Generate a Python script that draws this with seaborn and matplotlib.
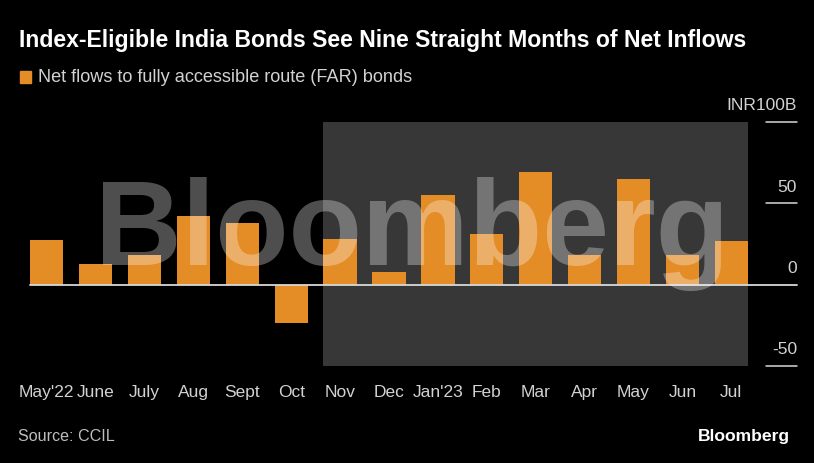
import matplotlib
matplotlib.use("Agg")
import matplotlib.pyplot as plt
import matplotlib.patches as mpatches
import seaborn as sns
import pandas as pd

# data (INR billion)
months = ["May'22", "June", "July", "Aug", "Sept", "Oct", "Nov", "Dec",
          "Jan'23", "Feb", "Mar", "Apr", "May", "Jun", "Jul"]
net_flows = [27.5, 13, 18.5, 42.5, 38, -23.5, 28, 7.5, 55, 31, 69, 18, 65, 18, 27]
yticks = [-50, 0, 50, 100]
ytick_labels = ["-50", "0", "50", "INR100B"]
shade_from = "Nov"

df = pd.DataFrame({"month": months, "flow": net_flows})

sns.set_style("dark")
plt.rcParams["font.family"] = ["Liberation Sans", "DejaVu Sans"]

bg = "black"
orange = "#e48c26"
grey_txt = "#d2d2d2"

fig = plt.figure(figsize=(8.14, 4.64), dpi=100, facecolor=bg)
ax = fig.add_axes([30 / 814, 1 - 367 / 464, 718 / 814, 244 / 464])
ax.set_facecolor(bg)

bw = 0.68
sns.barplot(data=df, x="month", y="flow", color=orange, width=bw,
            saturation=1, ax=ax, zorder=2, linewidth=0, edgecolor=orange)
ax.set_xlim(-bw / 2, len(months) - 1 + bw / 2)
ax.set_ylim(-50, 100)

# shaded period
i0 = months.index(shade_from)
ax.axvspan(i0 - bw / 2, len(months) - 1 + bw / 2, color="#373737", zorder=0, lw=0)

for s in ax.spines.values():
    s.set_visible(False)
ax.grid(False)
ax.set_xlabel("")
ax.set_ylabel("")
ax.set_yticks([])
ax.tick_params(axis="x", colors=grey_txt, length=4, width=0.8, pad=9,
               labelsize=12.5, direction="out")

# right-side y labels with short lines
xr = (797 - 30) / 718
xl = (766 - 30) / 718
for v, lab in zip(yticks, ytick_labels):
    if v == 0:
        ax.plot([0, xr], [v, v], transform=ax.get_yaxis_transform(),
                color="#d8d8d8", lw=1.3, clip_on=False, zorder=4)
    else:
        ax.plot([xl, xr], [v, v], transform=ax.get_yaxis_transform(),
                color="#d8d8d8", lw=1.1, clip_on=False, zorder=4)
    ax.text(xr, v + 10.5, lab, transform=ax.get_yaxis_transform(),
            ha="right", va="center", color=grey_txt, fontsize=12.5)

# watermark
fig.text(95 / 814, 1 - 265 / 464, "Bloomberg", color="white", alpha=0.31,
         fontsize=86.5, fontweight="bold", ha="left", va="baseline", zorder=10)

# title and legend
fig.text(19 / 814, 1 - 40 / 464, "Index-Eligible India Bonds See Nine Straight Months of Net Inflows",
         color="white", fontsize=16.6, fontweight="bold", ha="left", va="center")
fig.patches.append(mpatches.Rectangle((20 / 814, 1 - 84 / 464), 11 / 814, 12 / 464,
                                      transform=fig.transFigure, color=orange))
fig.text(38 / 814, 1 - 78 / 464, "Net flows to fully accessible route (FAR) bonds",
         color=grey_txt, fontsize=13.1, ha="left", va="center")

# footer
fig.text(18 / 814, 1 - 437 / 464, "Source: CCIL", color="#bdbdbd",
         fontsize=11.6, ha="left", va="center")
fig.text(790 / 814, 1 - 437 / 464, "Bloomberg", color="white",
         fontsize=12.6, fontweight="bold", ha="right", va="center")

fig.savefig("out.png", dpi=100, facecolor=bg)
